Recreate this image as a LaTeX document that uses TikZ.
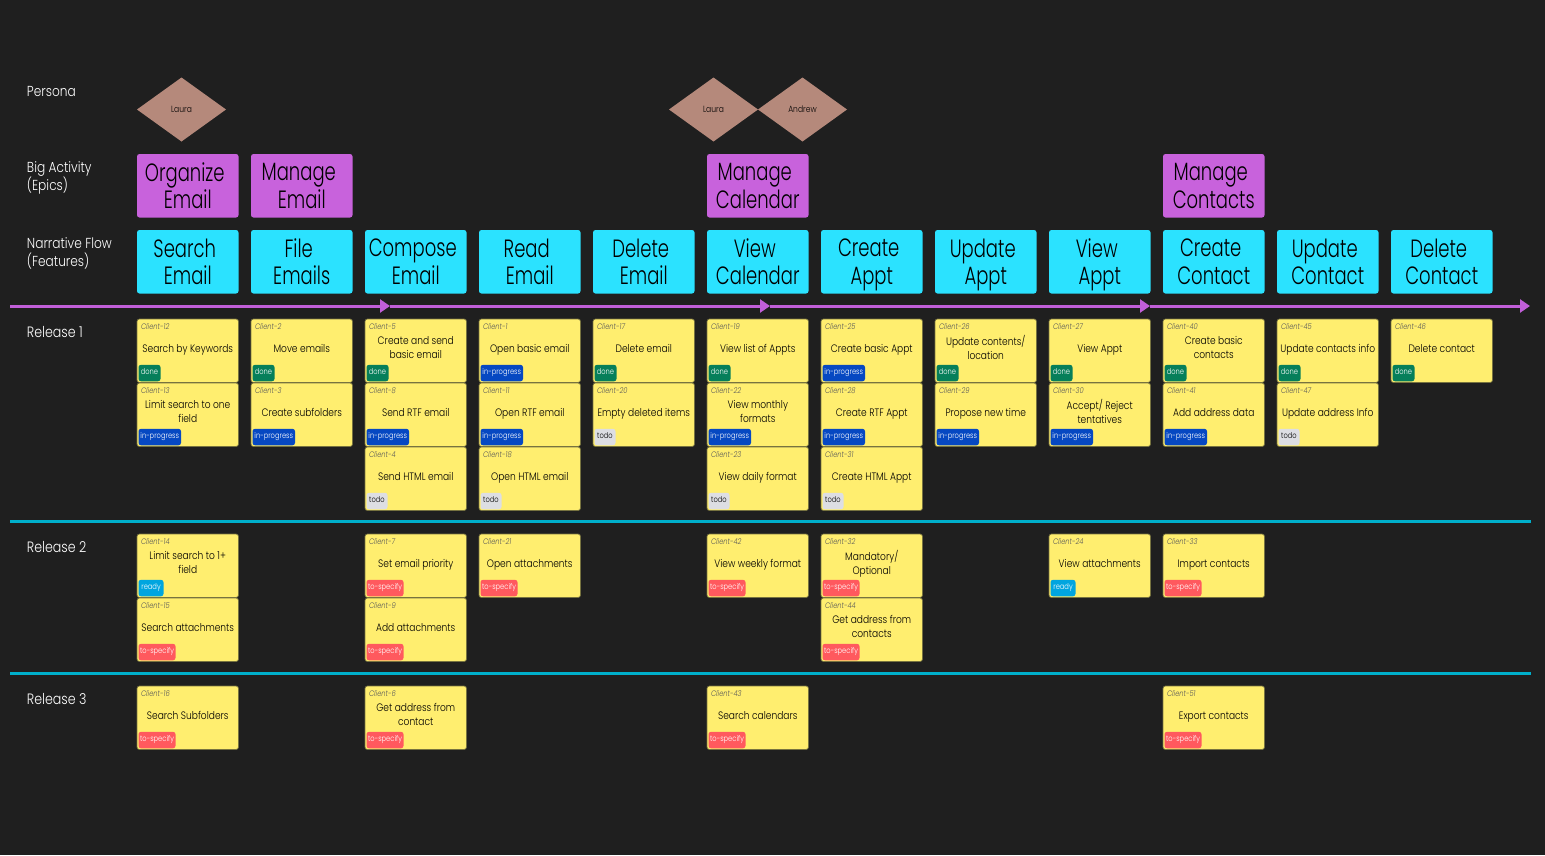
\documentclass[tikz,border=0pt]{standalone}
\usepackage{fontspec}
\setmainfont{Poppins}[FakeStretch=0.84,UprightFont={* Light},ItalicFont={* Light Italic}]
\newfontfamily\bigf{Poppins}[FakeStretch=0.72,UprightFont={* Light}]
\usetikzlibrary{arrows.meta,shapes.geometric}
\definecolor{bgc}{HTML}{1F1F1F}
\definecolor{yel}{HTML}{FFEE6F}
\definecolor{yelb}{HTML}{77733F}
\definecolor{epic}{HTML}{C862DC}
\definecolor{feat}{HTML}{2BE2FF}
\definecolor{dia}{HTML}{B5897B}
\definecolor{flow}{HTML}{C15FD8}
\definecolor{rel}{HTML}{00AFCB}
\definecolor{sdone}{HTML}{067F5A}
\definecolor{sprog}{HTML}{0648C2}
\definecolor{stodo}{HTML}{DDDEE3}
\definecolor{sready}{HTML}{00A5DF}
\definecolor{sspec}{HTML}{FF595E}
\tikzset{
 x=1pt,y=-1pt,
 every node/.style={inner sep=0pt,outer sep=0pt},
 struts/.style={execute at begin node=\strut,execute at end node=\strut},
 lbl/.style={struts,anchor=west,text=white,align=left,font=\fontsize{14.5}{18}\selectfont},
 rellbl/.style={struts,anchor=west,text=white,font=\fontsize{15}{18}\selectfont},
 bigbox/.style={anchor=north west,minimum width=101.5pt,minimum height=63.5pt,rounded corners=2.5pt},
 bigtext/.style={struts,align=center,text=black,font=\bigf\fontsize{25}{27.5}\selectfont},
 epicbox/.style={bigbox,fill=epic},
 featbox/.style={bigbox,fill=feat},
 persona/.style={diamond,aspect=1.4,fill=dia,minimum width=89pt,minimum height=64pt,inner sep=0pt,text=black,font=\fontsize{9}{10}\selectfont},
 cardbox/.style={anchor=north west,minimum width=101.5pt,minimum height=63.5pt,rounded corners=2.5pt,fill=yel,draw=yelb,line width=.7pt},
 cardtext/.style={struts,align=center,text=black,font=\fontsize{10.8}{14}\selectfont},
 clientid/.style={struts,anchor=west,text=black!65,font=\fontsize{8}{9}\itshape\selectfont},
 badge/.style={struts,anchor=south west,minimum height=16.5pt,rounded corners=2.5pt,font=\fontsize{8}{9}\selectfont},
 st-done/.style={badge,fill=sdone,text=white,minimum width=22pt},
 st-prog/.style={badge,fill=sprog,text=white,minimum width=42.5pt},
 st-todo/.style={badge,fill=stodo,text=black,minimum width=21pt},
 st-ready/.style={badge,fill=sready,text=white,minimum width=25pt},
 st-spec/.style={badge,fill=sspec,text=white,minimum width=37pt},
 flowline/.style={draw=flow,line width=3pt,-{Triangle[length=10pt,width=13pt]}},
 relline/.style={draw=rel,line width=3pt},
}
\newcommand\ucard[5]{%
 \node[cardbox] (c#1) at (#2,#3) {};
 \node[cardtext] (t#1) at ([yshift=1.2pt]c#1.center) {#4};
 \node[clientid] (i#1) at ([xshift=4pt,yshift=-8.5pt]c#1.north west) {Client-#1};
 \node[st-#5] (b#1) at ([xshift=1.5pt,yshift=1.2pt]c#1.south west) {\csname lb#5\endcsname};
}
\newcommand\ubox[5]{%
 \node[#2] (#1) at (#3,#4) {};
 \node[bigtext] (#1t) at ([yshift=-4pt]#1.center) {#5};
}
\newcommand\lbdone{done}
\newcommand\lbprog{in-progress}
\newcommand\lbtodo{todo}
\newcommand\lbready{ready}
\newcommand\lbspec{to-specify}
\newcommand\gp[1]{\hspace*{#1pt}}
\begin{document}
\begin{tikzpicture}
\useasboundingbox (0,0) rectangle (1545,855);
\fill[bgc] (0,0) rectangle (1545,855);
% row labels
\node[lbl] (lPersona) at (27,93) {Persona};
\node[lbl] (lEpic) at (27,179) {Big Activity\\(Epics)};
\node[lbl] (lFlow) at (27,255) {Narrative Flow\\(Features)};
\node[rellbl] (lR1) at (27,334) {Release 1};
\node[rellbl] (lR2) at (27,549) {Release 2};
\node[rellbl] (lR3) at (27,701) {Release 3};
% personas
\node[persona] (p1) at (181.5,109.5) {Laura};
\node[persona] (p2) at (713.5,109.5) {Laura};
\node[persona] (p3) at (802.5,109.5) {Andrew};
% epics
\ubox{e1}{epicbox}{137}{154}{Organize\gp{6}\\Email}
\ubox{e2}{epicbox}{251}{154}{Manage\gp{6}\\Email}
\ubox{e3}{epicbox}{707}{154}{Manage\gp{6}\\Calendar}
\ubox{e4}{epicbox}{1163}{154}{Manage\gp{6}\\Contacts}
% features
\ubox{f1}{featbox}{137}{230}{Search\gp{6}\\Email}
\ubox{f2}{featbox}{251}{230}{File\gp{6}\\Emails}
\ubox{f3}{featbox}{365}{230}{Compose\gp{6}\\Email}
\ubox{f4}{featbox}{479}{230}{Read\gp{6}\\Email}
\ubox{f5}{featbox}{593}{230}{Delete\gp{6}\\Email}
\ubox{f6}{featbox}{707}{230}{View\gp{6}\\Calendar}
\ubox{f7}{featbox}{821}{230}{Create\gp{6}\\Appt}
\ubox{f8}{featbox}{935}{230}{Update\gp{6}\\Appt}
\ubox{f9}{featbox}{1049}{230}{View\gp{6}\\Appt}
\ubox{f10}{featbox}{1163}{230}{Create\gp{6}\\Contact}
\ubox{f11}{featbox}{1277}{230}{Update\gp{6}\\Contact}
\ubox{f12}{featbox}{1391}{230}{Delete\gp{6}\\Contact}
% flow and release lines
\coordinate (a0) at (10,306);
\coordinate (a1) at (390,306);
\coordinate (a2) at (770,306);
\coordinate (a3) at (1150,306);
\coordinate (a4) at (1530,306);
\draw[flowline] (a0) -- (a1);
\draw[flowline] (a1) -- (a2);
\draw[flowline] (a2) -- (a3);
\draw[flowline] (a3) -- (a4);
\coordinate (r2a) at (10,521);
\coordinate (r2b) at (1531,521);
\coordinate (r3a) at (10,673.5);
\coordinate (r3b) at (1531,673.5);
\draw[relline] (r2a) -- (r2b);
\draw[relline] (r3a) -- (r3b);
% cards
\ucard{12}{137}{319}{Search by Keywords}{done}
\ucard{13}{137}{383}{Limit search to one\\field}{prog}
\ucard{14}{137}{534}{Limit search to 1+\\field}{ready}
\ucard{15}{137}{598}{Search attachments}{spec}
\ucard{16}{137}{686}{Search Subfolders}{spec}
\ucard{2}{251}{319}{Move emails}{done}
\ucard{3}{251}{383}{Create subfolders}{prog}
\ucard{5}{365}{319}{Create and send\\basic email}{done}
\ucard{8}{365}{383}{Send RTF email}{prog}
\ucard{4}{365}{447}{Send HTML email}{todo}
\ucard{7}{365}{534}{Set email priority}{spec}
\ucard{9}{365}{598}{Add attachments}{spec}
\ucard{6}{365}{686}{Get address from\\contact}{spec}
\ucard{1}{479}{319}{Open basic email}{prog}
\ucard{11}{479}{383}{Open RTF email}{prog}
\ucard{18}{479}{447}{Open HTML email}{todo}
\ucard{21}{479}{534}{Open attachments}{spec}
\ucard{17}{593}{319}{Delete email}{done}
\ucard{20}{593}{383}{Empty deleted items}{todo}
\ucard{19}{707}{319}{View list of Appts}{done}
\ucard{22}{707}{383}{View monthly\\formats}{prog}
\ucard{23}{707}{447}{View daily format}{todo}
\ucard{42}{707}{534}{View weekly format}{spec}
\ucard{43}{707}{686}{Search calendars}{spec}
\ucard{25}{821}{319}{Create basic Appt}{prog}
\ucard{28}{821}{383}{Create RTF Appt}{prog}
\ucard{31}{821}{447}{Create HTML Appt}{todo}
\ucard{32}{821}{534}{Mandatory/\\Optional}{spec}
\ucard{44}{821}{598}{Get address from\\contacts}{spec}
\ucard{26}{935}{319}{Update contents/\\location}{done}
\ucard{29}{935}{383}{Propose new time}{prog}
\ucard{27}{1049}{319}{View Appt}{done}
\ucard{30}{1049}{383}{Accept/ Reject\\tentatives}{prog}
\ucard{24}{1049}{534}{View attachments}{ready}
\ucard{40}{1163}{319}{Create basic\\contacts}{done}
\ucard{41}{1163}{383}{Add address data}{prog}
\ucard{33}{1163}{534}{Import contacts}{spec}
\ucard{51}{1163}{686}{Export contacts}{spec}
\ucard{45}{1277}{319}{Update contacts info}{done}
\ucard{47}{1277}{383}{Update address Info}{todo}
\ucard{46}{1391}{319}{Delete contact}{done}
\end{tikzpicture}
\end{document}
